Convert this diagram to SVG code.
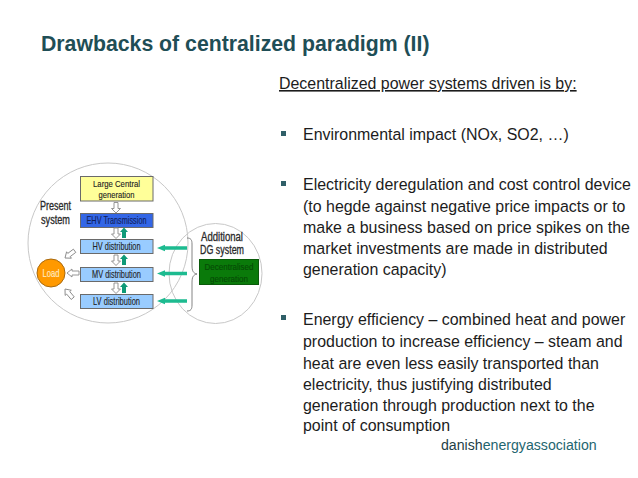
<svg xmlns="http://www.w3.org/2000/svg" width="638" height="478" viewBox="0 0 638 478">
<defs>
<style>
text{font-family:"Liberation Sans",Arial,sans-serif}
.title{font-size:21.25px;font-weight:bold;fill:#1f4e56}
.b{font-size:15.95px;fill:#1c1c1c}
.box{stroke:#6a6a6a;stroke-width:1}
.lbl{font-size:10.5px;text-anchor:middle;fill:#222;stroke:#222;stroke-width:.12}
.two{font-size:9.5px}
.cap{font-size:12px;text-anchor:middle;fill:#2a2a2a;stroke:#2a2a2a;stroke-width:.3}
.ring{fill:none;stroke:#c8c8c8;stroke-width:1}
.hollow{fill:#fff;stroke:#8a8a8a;stroke-width:.9}
.up{fill:#0f9a78}
.left{fill:#1dbb90}
.sq{fill:#2f5f68}
</style>
<path id="h" class="hollow" d="M-2-5h4v6h2.500l-4.500 4.500-4.500-4.500h2.500z"/>
<path id="u" class="up" d="M-2 5v-6h-2l4-4.500 4 4.500h-2v6z"/>
<path id="l" class="hollow" d="M0 0l5-4v2h7v4h-7v2z"/>
<path id="g" class="left" d="M0 0l8-3.300v1.500h22v3.600h-22v1.500z"/>
</defs>
<rect width="638" height="478" fill="#fff"/>
<text class="title" x="41" y="51">Drawbacks of centralized paradigm (II)</text>
<text class="b" x="279" y="89" text-decoration="underline">Decentralized power systems driven is by:</text>
<g id="bullets">
<rect class="sq" x="281" y="131" width="5" height="5"/>
<rect class="sq" x="281" y="181" width="5" height="5"/>
<rect class="sq" x="281" y="315" width="5" height="5"/>
</g>
<text class="b" x="303" y="140">Environmental impact (NOx, SO2, …)</text>
<text class="b" x="303" y="190">Electricity deregulation and cost control device</text>
<text class="b" x="303" y="212">(to hegde against negative price impacts or to</text>
<text class="b" x="303" y="233">make a business based on price spikes on the</text>
<text class="b" x="303" y="254">market investments are made in distributed</text>
<text class="b" x="303" y="275">generation capacity)</text>
<text class="b" x="303" y="325">Energy efficiency – combined heat and power</text>
<text class="b" x="303" y="347">production to increase efficiency – steam and</text>
<text class="b" x="303" y="369">heat are even less easily transported than</text>
<text class="b" x="303" y="390">electricity, thus justifying distributed</text>
<text class="b" x="303" y="411">generation through production next to the</text>
<text class="b" x="303" y="431">point of consumption</text>
<text x="441" y="450" font-size="14.15px" fill="#1f3f47">danish<tspan fill="#1f6670">energyassociation</tspan></text>
<g id="present-system"><circle class="ring" cx="108" cy="243" r="80"/>
<text class="cap" x="55.500" y="210" textLength="31" lengthAdjust="spacingAndGlyphs">Present</text><text class="cap" x="55.500" y="223.500" textLength="29" lengthAdjust="spacingAndGlyphs">system</text></g>
<g id="dg-system"><ellipse class="ring" cx="215.500" cy="273.500" rx="46.500" ry="50"/>
<text class="cap" x="222" y="240.500" textLength="42" lengthAdjust="spacingAndGlyphs">Additional</text><text class="cap" x="222" y="254" textLength="44" lengthAdjust="spacingAndGlyphs">DG system</text></g>
<g id="large-central"><rect class="box" x="80.500" y="176.500" width="72.500" height="24.500" fill="#ffff99"/>
<text class="lbl two" x="116.500" y="187" textLength="47" lengthAdjust="spacingAndGlyphs">Large Central</text><text class="lbl two" x="116.500" y="198" textLength="36" lengthAdjust="spacingAndGlyphs">generation</text></g>
<g id="ehv"><rect class="box" x="80.500" y="213.500" width="72.500" height="14" fill="#3366e6"/><text class="lbl" x="116.500" y="224" style="fill:#10205a;stroke:#10205a" textLength="60" lengthAdjust="spacingAndGlyphs">EHV Transmission</text></g>
<g id="hv"><rect class="box" x="80.500" y="239.500" width="72.500" height="14" fill="#99ccff"/><text class="lbl" x="116.500" y="250.200" textLength="48" lengthAdjust="spacingAndGlyphs">HV distribution</text></g>
<g id="mv"><rect class="box" x="80.500" y="267.500" width="72.500" height="14" fill="#99ccff"/><text class="lbl" x="116.500" y="278" textLength="49" lengthAdjust="spacingAndGlyphs">MV distribution</text></g>
<g id="lv"><rect class="box" x="80.500" y="294.500" width="72.500" height="14" fill="#99ccff"/><text class="lbl" x="116.500" y="305.200" textLength="47" lengthAdjust="spacingAndGlyphs">LV distribution</text></g>
<g id="load"><circle cx="51" cy="273" r="14" fill="#ff9900" stroke="#a86a10"/><text x="51" y="276.800" font-size="10.500px" fill="#ffe9c0" stroke="#ffe9c0" stroke-width=".2" text-anchor="middle" textLength="17" lengthAdjust="spacingAndGlyphs">Load</text></g>
<g id="decentralised"><rect x="199.500" y="259.500" width="59" height="25" fill="#0a7a0a" stroke="#0a5a0a"/>
<text class="lbl two" x="229" y="270" style="fill:#064a06;stroke:#064a06" textLength="49" lengthAdjust="spacingAndGlyphs">Decentralised</text><text class="lbl two" x="229" y="281.500" style="fill:#064a06;stroke:#064a06" textLength="38" lengthAdjust="spacingAndGlyphs">generation</text></g>
<g id="connectors">
<use href="#h" x="116" y="207.500"/>
<use href="#h" x="116" y="233"/>
<use href="#h" x="116" y="260"/>
<use href="#h" x="116" y="288"/>
<use href="#u" x="124" y="233"/>
<use href="#u" x="124" y="260"/>
<use href="#u" x="124" y="288"/>
<use href="#l" transform="translate(65,258) rotate(-37)"/>
<use href="#l" transform="translate(67,273)"/>
<use href="#l" transform="translate(65,289) rotate(50)"/>
<use href="#g" x="157" y="248"/>
<use href="#g" x="157" y="273.500"/>
<use href="#g" x="157" y="301"/>
<path fill="none" stroke="#777" stroke-width=".9" d="M187 238c4 0 5 2 5 6v21c0 6 1 8 5 9c-4 1-5 3-5 9v22c0 4-1 6-5 6"/>
</g>
</svg>
